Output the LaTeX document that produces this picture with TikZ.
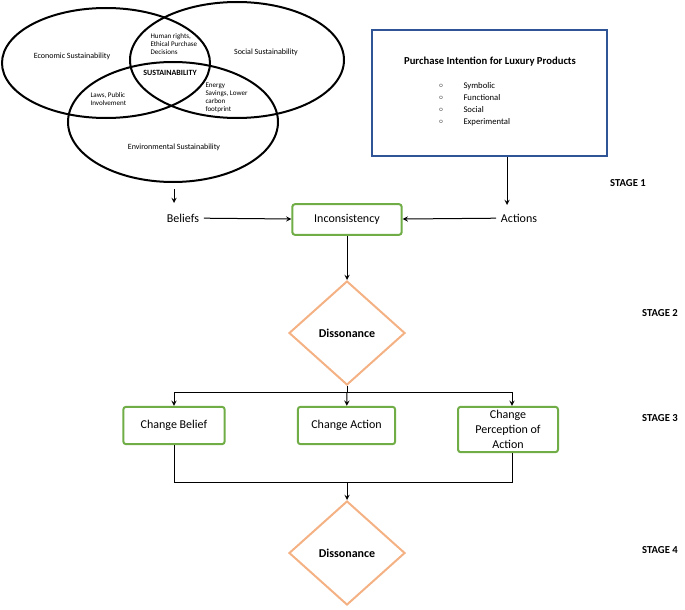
\documentclass[tikz,border=0pt]{standalone}
\usepackage{fontspec}
\setmainfont{Carlito}
\usetikzlibrary{shapes.geometric}
\definecolor{boxgreen}{HTML}{70AD47}
\definecolor{boxblue}{HTML}{2F5597}
\definecolor{diaorange}{HTML}{F4B183}
\tikzset{every picture/.style={line width=0.75pt}}
\begin{document}
\begin{tikzpicture}[x=0.75pt,y=0.75pt,yscale=-1,xscale=1,
  stepbox/.style={draw=boxgreen,line width=1.5pt,rounded corners=2pt,inner sep=0pt,align=center,font=\small},
  dissonance/.style={diamond,draw=diaorange,line width=1.5pt,minimum width=87pt,minimum height=78pt,inner sep=0pt,font=\small\bfseries},
  stage/.style={font=\footnotesize\bfseries},
  venn/.style={font=\fontsize{6}{7}\selectfont,align=left,inner sep=0.75pt},
  arr/.style={->,>=stealth}]
\useasboundingbox (0,0) rectangle (685,610);

%Venn diagram
\draw [line width=1.5pt] (106,63) ellipse [x radius=104, y radius=55];
\draw [line width=1.5pt] (237,60) ellipse [x radius=107, y radius=58];
\draw [line width=1.5pt] (173,122) ellipse [x radius=105, y radius=60];
\node [venn] (econ) at (72,56) {Economic Sustainability};
\node [venn] (soc) at (266,52) {Social Sustainability};
\node [venn] (envi) at (174,147) {Environmental Sustainability};
\node [venn,font=\fontsize{6}{7}\selectfont\bfseries] (sus) at (170,73) {SUSTAINABILITY};
\node [venn,anchor=north west,font=\fontsize{5.3}{6}\selectfont] (human) at (149,32) {Human rights,\\Ethical Purchase\\Decisions};
\node [venn,anchor=north west,font=\fontsize{5.3}{6}\selectfont] (laws) at (89,91) {Laws, Public\\Involvement};
\node [venn,anchor=north west,font=\fontsize{5.3}{6}\selectfont] (energy) at (204,81) {Energy\\Savings, Lower\\carbon\\footprint};
\coordinate (vennout) at (174,189);

%Purchase box
\draw [boxblue,line width=2pt] (372,30) rectangle (607,156);
\node [font=\fontsize{8}{9}\selectfont\bfseries] (title) at (490,62) {Purchase Intention for Luxury Products};
\foreach \y/\t in {86/Symbolic,98/Functional,110/Social,122/Experimental}{
  \node [font=\fontsize{3}{3}\selectfont] at (441,\y) {$\circ$};
  \node [anchor=west,font=\fontsize{6.5}{7}\selectfont,inner sep=0pt] at (463,\y) {\t};
}
\coordinate (boxout) at (507,157);

%Stage 1
\node (beliefs) at (183,218) {\small Beliefs};
\node (actions) at (519,218) {\small Actions};
\node [stepbox,minimum width=82pt,minimum height=23pt] (incons) at (347,219.5) {Inconsistency};
\draw [arr] (vennout) -- (174,203);
\draw [arr] (boxout) -- (507,205);
\draw [arr] (beliefs) -- (incons);
\draw [arr] (actions) -- (incons);
\node [stage] (s1) at (628,183) {STAGE 1};

%Stage 2
\node [dissonance] (dis1) at (347,333) {Dissonance};
\draw [arr] (incons) -- (dis1);
\node [stage] (s2) at (660,313) {STAGE 2};

%Stage 3
\node [stepbox,minimum width=76pt,minimum height=28pt] (belief) at (174,425.5) {Change Belief};
\node [stepbox,minimum width=73pt,minimum height=28pt] (action) at (346.5,425.5) {Change Action};
\node [stepbox,minimum width=75pt,minimum height=34pt] (percep) at (508,429.5) {Change\\Perception of\\Action};
\draw (dis1.south) -- (347,392);
\draw (174,392) -- (512,392);
\draw [arr] (174,392) -- (belief);
\draw [arr] (347,392) -- (action);
\draw [arr] (512,392) -- (percep.north -| 512,392);
\node [stage] (s3) at (660,418) {STAGE 3};

%Stage 4
\node [dissonance] (dis2) at (347,553) {Dissonance};
\draw (belief) -- (174,482) -- (512,482) -- (percep.south -| 512,482);
\draw [arr] (347,482) -- (dis2);
\node [stage] (s4) at (660,550) {STAGE 4};
\end{tikzpicture}
\end{document}
